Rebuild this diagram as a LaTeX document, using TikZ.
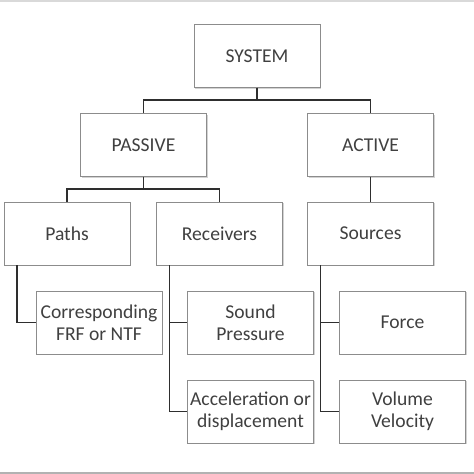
\documentclass[tikz,border=0pt]{standalone}
\usepackage{fontspec}
\setmainfont{Carlito}
\usepackage{tikz}
\usetikzlibrary{shadows}
\definecolor{boxgray}{rgb}{0.55, 0.55, 0.55}
\definecolor{textgray}{rgb}{0.25, 0.25, 0.25}
\definecolor{linkgray}{rgb}{0.18, 0.18, 0.18}
\definecolor{topgray}{rgb}{0.85, 0.85, 0.85}
\definecolor{botgray}{rgb}{0.7, 0.7, 0.7}

\begin{document}
\begin{tikzpicture}[x=1pt, y=-1pt,
    box/.style={draw=boxgray, fill=white, text=textgray, minimum width=126pt, minimum height=63pt,
      inner sep=0pt, align=center, font=\fontsize{19.6}{21.8}\selectfont,
      drop shadow={shadow xshift=1.2pt, shadow yshift=-1.2pt, opacity=0.35}},
    link/.style={linkgray, line width=1.6pt}]
    \useasboundingbox (0,0) rectangle (474,474);
    \fill[topgray] (0,0) rectangle (474,2);
    \fill[botgray] (0,471.5) rectangle (474,474);

    \node[box] (system) at (257,56) {SYSTEM};
    \node[box] (passive) at (143.5,145) {PASSIVE};
    \node[box] (active) at (370.5,145) {ACTIVE};
    \node[box] (paths) at (67,233.5) {Paths};
    \node[box] (receivers) at (219.5,233.5) {Receivers};
    \node[box] (sources) at (370.5,233.5) {Sources};
    \node[box] (frf) at (99,322.5) {Corresponding\\FRF or NTF};
    \node[box] (pressure) at (250.5,322.5) {Sound\\Pressure};
    \node[box] (accel) at (250.5,411.5) {Acceleration or\\displacement};
    \node[box] (force) at (402.5,322.5) {Force};
    \node[box] (volume) at (402.5,411.5) {Volume\\Velocity};

    \draw[link] (system.south) -- ++(0,12) -| (passive.north);
    \draw[link] (system.south) -- ++(0,12) -| (active.north);
    \draw[link] (passive.south) -- ++(0,12) -| (paths.north);
    \draw[link] (passive.south) -- ++(0,12) -| (receivers.north);
    \draw[link] (active.south) -- (sources.north);
    \foreach \p/\c in {paths/frf, receivers/pressure, receivers/accel, sources/force, sources/volume}{
      \draw[link] ([xshift=13pt]\p.south west) |- (\c.west);
    }
  \end{tikzpicture}
\end{document}
